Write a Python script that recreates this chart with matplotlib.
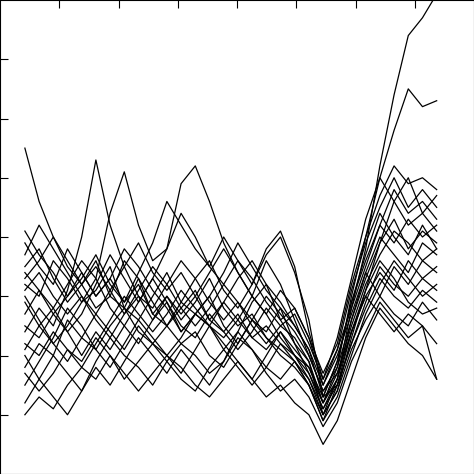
import numpy as np
import matplotlib
matplotlib.use("Agg")
import matplotlib.pyplot as plt

x = np.linspace(0.42, 7.37, 30)
s1=[5.5,4.6,4.0,3.5,3.2,3.6,3.0,2.8,3.3,2.9,2.5,2.8,3.1,2.6,2.4,2.7,2.3,2.5,2.2,2.0,1.8,1.3,1.5,2.4,3.0,3.4,3.1,3.6,3.3,3.5]
s2=[3.9,3.5,3.2,3.8,3.4,3.0,3.3,2.9,3.2,2.7,3.0,2.6,2.9,3.3,2.8,2.5,2.7,2.3,2.1,1.9,1.6,1.1,1.6,2.8,3.8,5.2,6.4,7.4,7.7,8.1]
s3=[3.2,3.0,3.6,3.3,2.9,3.1,3.5,2.8,2.6,3.0,3.4,2.9,2.7,2.5,2.9,2.6,2.3,2.1,2.4,2.0,1.7,1.2,1.8,3.0,4.0,5.0,5.8,6.5,6.2,6.3]
s4=[2.4,2.8,2.5,3.1,4.0,5.3,4.2,3.5,3.0,2.6,2.9,2.4,2.7,3.0,2.5,2.2,2.6,2.4,2.8,2.2,1.9,1.0,1.4,2.3,3.1,3.9,4.6,5.0,4.4,4.7]
s5=[3.0,2.6,2.2,2.5,2.9,3.3,4.4,5.1,4.2,3.6,3.8,4.9,5.2,4.6,3.9,3.4,3.0,3.6,3.2,2.6,2.0,1.4,1.8,2.6,3.3,3.9,4.3,3.8,4.1,3.9]
s6=[1.8,2.2,2.0,2.6,2.3,2.1,2.5,2.8,2.4,2.2,2.0,2.3,2.7,2.5,2.1,2.4,2.9,3.2,2.6,2.2,1.7,1.1,1.5,2.2,2.9,3.5,3.2,3.0,3.3,3.1]
s7=[1.2,1.6,2.0,1.7,1.4,1.9,2.3,2.0,1.8,1.5,1.9,2.2,2.0,1.7,1.9,2.3,2.1,1.8,1.6,1.9,1.5,0.9,1.3,2.0,2.7,3.2,3.6,3.3,3.0,3.2]
s8=[4.1,3.7,3.4,3.0,3.3,3.7,3.2,2.9,3.4,3.9,4.6,4.2,3.8,3.5,4.0,3.6,3.2,3.8,4.1,3.5,2.4,1.6,2.1,2.8,3.5,4.2,4.8,4.4,4.6,4.3]
s9=[2.0,1.6,1.3,1.0,1.4,1.8,1.5,1.9,2.3,2.0,1.7,2.1,1.8,1.5,1.9,2.4,2.1,1.7,1.4,1.6,1.3,0.8,1.2,1.9,2.4,2.9,2.6,2.3,2.5,1.6]
s10=[3.5,3.8,3.3,2.9,3.2,2.8,3.0,3.6,3.3,2.7,2.5,2.9,3.3,3.6,3.1,2.8,3.2,3.7,4.0,3.4,2.6,1.3,1.9,2.9,3.7,4.4,4.0,3.7,4.2,3.8]
s11=[2.7,3.1,2.8,2.4,2.7,3.2,3.7,3.3,2.9,3.3,3.8,4.4,4.0,3.5,3.2,3.6,3.3,2.9,2.6,2.8,2.3,1.5,2.0,2.7,3.4,3.0,3.5,3.2,3.6,3.4]
s12=[1.5,1.9,2.3,2.8,2.5,2.1,1.8,2.2,2.6,2.3,2.0,1.7,2.1,2.5,2.2,1.9,1.6,2.0,2.4,2.1,1.8,1.2,1.7,2.5,3.2,3.7,4.1,3.9,3.6,3.8]
s13=[3.3,3.6,4.0,3.6,3.2,3.5,3.1,2.7,3.1,3.5,3.2,2.8,2.5,2.8,3.2,2.9,2.6,3.0,2.7,2.4,2.0,1.4,1.7,2.4,3.1,3.6,3.3,2.9,2.7,2.8]
s14=[2.2,2.0,2.4,2.1,1.8,2.2,2.6,3.0,2.7,2.4,2.7,3.1,2.8,2.5,2.3,2.6,3.0,2.7,2.3,2.0,1.6,1.0,1.4,2.1,2.6,3.0,2.7,2.5,2.9,2.6]
s15=[2.9,2.5,2.8,3.2,3.6,3.3,2.8,2.5,2.2,2.6,3.0,2.7,3.0,3.4,3.8,3.4,3.0,2.7,3.1,2.8,2.3,1.7,2.2,3.2,4.0,4.7,5.2,4.9,5.0,4.8]
s16=[1.0,1.3,1.1,1.5,1.8,1.6,2.0,1.7,1.4,1.7,2.0,1.8,1.5,1.3,1.6,1.9,1.6,1.3,1.5,1.2,1.0,0.5,0.9,1.6,2.3,2.8,2.5,2.2,2.0,1.6]
s17=[3.7,4.2,3.8,3.4,3.0,2.7,3.1,3.5,3.9,3.4,3.1,3.4,3.0,2.6,2.9,3.3,3.6,3.2,2.9,2.5,2.1,1.5,2.1,3.1,3.9,4.5,5.0,4.5,4.8,4.5]
s18=[2.5,2.3,2.7,2.4,2.0,2.4,2.1,2.5,2.9,3.3,2.9,2.5,2.3,2.7,2.4,2.1,2.4,2.8,2.5,2.3,1.9,1.2,1.6,2.6,3.4,4.0,3.7,3.4,3.9,3.7]
s19=[3.1,3.4,3.0,2.7,3.0,2.6,2.3,2.7,3.0,2.8,3.2,3.6,3.3,2.9,2.6,2.9,2.5,2.2,2.5,2.7,2.2,1.6,2.3,3.3,4.3,5.0,4.6,4.2,4.4,4.1]
s20=[2.1,2.5,2.2,1.9,2.3,2.7,2.4,2.1,2.5,2.2,2.5,2.2,2.4,2.0,1.8,2.2,2.6,2.3,2.0,1.8,1.5,1.0,1.6,2.4,3.0,2.7,2.4,2.7,2.5,2.2]
s21=[3.4,3.1,2.7,3.0,3.4,3.0,3.3,3.8,3.5,3.1,2.8,2.4,2.7,3.0,3.4,3.9,3.5,3.1,2.8,2.5,2.1,1.3,1.9,2.9,3.6,4.2,3.9,4.3,4.0,4.2]
s22=[1.7,1.4,1.7,2.1,1.9,2.3,2.0,1.6,1.9,2.2,1.9,1.6,1.4,1.8,2.1,1.8,1.5,1.8,2.2,1.9,1.5,0.9,1.5,2.2,2.8,3.3,3.0,2.8,3.1,2.9]
series=[s1,s2,s3,s4,s5,s6,s7,s8,s9,s10,s11,s12,s13,s14,s15,s16,s17,s18,s19,s20,s21,s22]

fig = plt.figure(figsize=(4.74,4.74), dpi=100)
ax = fig.add_axes([0,0,1,1])
for s in series:
    ax.plot(x, s, color='black', lw=0.9)
ax.set_xlim(0,8); ax.set_ylim(0,8)
ax.set_xticks(range(1,8)); ax.set_yticks(range(1,8))
ax.tick_params(direction='in', top=True, right=False, bottom=False, labelbottom=False, labelleft=False, length=6)
fig.savefig('out.png', dpi=100)
